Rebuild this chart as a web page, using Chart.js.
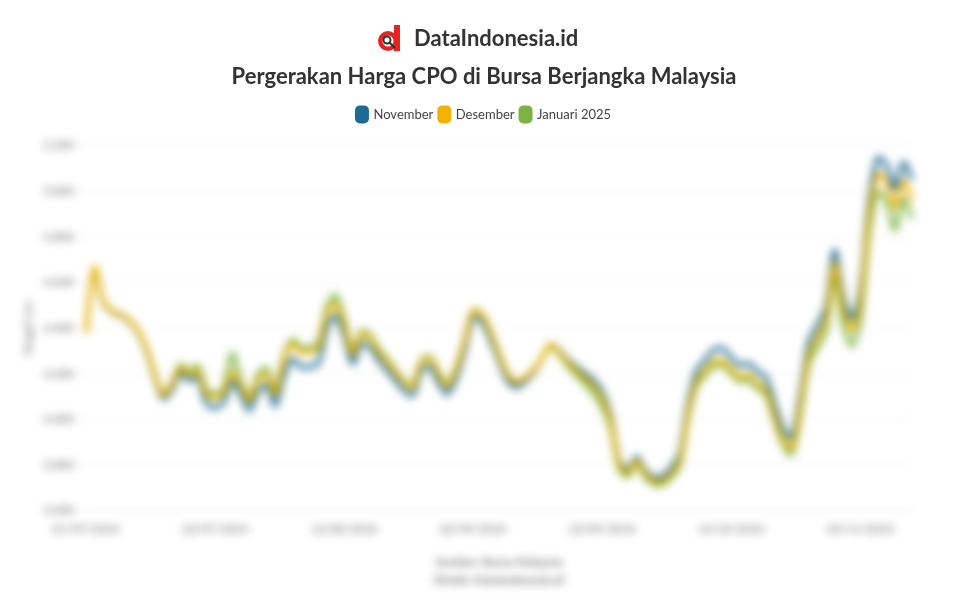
<!DOCTYPE html>
<html>
<head>
<meta charset="utf-8">
<script src="https://cdn.jsdelivr.net/npm/chart.js@4"></script>
<style>
  html, body { margin: 0; padding: 0; background: #fff; }
  canvas { display: block; }
</style>
</head>
<body>
<canvas id="cpoChart" width="960" height="600"></canvas>
<script>
const dates = [
  '01/07/2024','02/07/2024','03/07/2024','04/07/2024','05/07/2024','08/07/2024','09/07/2024','10/07/2024',
  '11/07/2024','12/07/2024','15/07/2024','16/07/2024','17/07/2024','18/07/2024','19/07/2024','22/07/2024',
  '23/07/2024','24/07/2024','25/07/2024','26/07/2024','29/07/2024','30/07/2024','31/07/2024',
  '01/08/2024','02/08/2024','05/08/2024','06/08/2024','07/08/2024','08/08/2024','09/08/2024','12/08/2024',
  '13/08/2024','14/08/2024','15/08/2024','16/08/2024','19/08/2024','20/08/2024','21/08/2024','22/08/2024',
  '23/08/2024','26/08/2024','27/08/2024','28/08/2024','29/08/2024','30/08/2024',
  '02/09/2024','03/09/2024','04/09/2024','05/09/2024','06/09/2024','09/09/2024','10/09/2024','11/09/2024',
  '12/09/2024','13/09/2024','16/09/2024','17/09/2024','18/09/2024','19/09/2024','20/09/2024','23/09/2024',
  '24/09/2024','25/09/2024','26/09/2024','27/09/2024','30/09/2024',
  '01/10/2024','02/10/2024','03/10/2024','04/10/2024','07/10/2024','08/10/2024','09/10/2024','10/10/2024',
  '11/10/2024','14/10/2024','15/10/2024','16/10/2024','17/10/2024','18/10/2024','21/10/2024','22/10/2024',
  '23/10/2024','24/10/2024','25/10/2024','28/10/2024','29/10/2024','30/10/2024','31/10/2024',
  '01/11/2024','04/11/2024','05/11/2024','06/11/2024','07/11/2024','08/11/2024','11/11/2024','12/11/2024'
];

// harga penutupan kontrak (ringgit/ton)
const november = [
  4380,4660,4515,4470,4455,4430,4385,4305,4185,4090,4130,4200,4170,4185,4070,4050,
  4075,4165,4110,4040,4120,4150,4060,4190,4265,4230,4230,4245,4400,4455,4370,4245,
  4330,4315,4260,4215,4170,4125,4105,4215,4230,4160,4110,4180,4300,4445,4430,4350,
  4260,4170,4140,4165,4205,4265,4330,4300,4260,4230,4200,4170,4120,4015,3815,3780,
  3835,3775,3745,3750,3785,3850,4070,4215,4260,4305,4310,4270,4235,4245,4210,4185,
  4070,3960,3920,4100,4335,4410,4490,4740,4540,4440,4565,4945,5145,5115,5010,5125,5050
];
const desember = [
  4380,4665,4520,4475,4460,4435,4390,4315,4195,4105,4150,4225,4195,4215,4110,4095,
  4115,4205,4150,4080,4170,4195,4110,4255,4330,4295,4295,4310,4460,4505,4415,4285,
  4370,4355,4295,4250,4205,4160,4140,4250,4265,4195,4145,4215,4335,4475,4460,4380,
  4285,4195,4160,4180,4215,4270,4330,4295,4250,4215,4180,4145,4095,3995,3800,3765,
  3820,3760,3730,3730,3760,3820,4030,4170,4215,4255,4255,4220,4185,4195,4160,4135,
  4020,3915,3875,4050,4285,4360,4435,4685,4490,4390,4510,4885,5075,5045,4930,5045,4960
];
const januari = [
  4380,4665,4520,4475,4460,4435,4390,4315,4200,4110,4160,4240,4210,4235,4130,4110,
  4135,4290,4170,4100,4195,4225,4130,4275,4350,4315,4315,4335,4490,4545,4440,4305,
  4385,4370,4310,4265,4215,4170,4150,4260,4275,4205,4155,4225,4345,4480,4465,4385,
  4290,4200,4165,4180,4215,4265,4320,4285,4235,4195,4155,4110,4055,3960,3780,3750,
  3805,3745,3715,3715,3745,3800,4010,4150,4195,4235,4235,4200,4165,4175,4135,4110,
  3995,3890,3845,4015,4245,4315,4390,4620,4420,4320,4440,4810,4995,4960,4830,4965,4880
];

const seriesNames = ['November', 'Desember', 'Januari 2025'];
const seriesColors = ['#1d6a92', '#f2b200', '#7cb342'];
const yTicks = [3600, 3800, 4000, 4200, 4400, 4600, 4800, 5000, 5200];

// logo di atas judul
const logoPlugin = {
  id: 'logo',
  beforeInit(chart) {
    // beri jarak antara legenda dan area grafik
    const fit = chart.legend.fit;
    chart.legend.fit = function () {
      fit.call(this);
      this.height += 14;
    };
  },
  afterDraw(chart) {
    const ctx = chart.ctx;
    ctx.save();
    ctx.fillStyle = '#e52521';
    ctx.beginPath();
    ctx.arc(388, 41, 10, 0, Math.PI * 2);
    ctx.fill();
    ctx.fillRect(394, 25, 6, 26);
    ctx.fillStyle = '#fff';
    ctx.beginPath();
    ctx.arc(388, 41, 5.5, 0, Math.PI * 2);
    ctx.fill();
    ctx.strokeStyle = '#333';
    ctx.lineWidth = 2;
    ctx.beginPath();
    ctx.arc(387, 40, 3.5, 0, Math.PI * 2);
    ctx.moveTo(390, 43);
    ctx.lineTo(395, 48);
    ctx.stroke();
    ctx.fillStyle = '#333';
    ctx.font = 'bold 22px Lato';
    ctx.textBaseline = 'alphabetic';
    ctx.fillText('DataIndonesia.id', 414, 46);
    ctx.restore();
  }
};

// bagian grafik dibuat buram seperti gambar acuan
const blurPlugin = {
  id: 'blurArea',
  afterDraw(chart) {
    const { ctx, canvas } = chart;
    const top = 126;
    const w = canvas.width, h = canvas.height - top;
    const tmp = document.createElement('canvas');
    tmp.width = w;
    tmp.height = h;
    tmp.getContext('2d').drawImage(canvas, 0, top, w, h, 0, 0, w, h);
    ctx.save();
    ctx.setTransform(1, 0, 0, 1, 0, 0);
    ctx.clearRect(0, top, w, h);
    ctx.filter = 'blur(4px)';
    ctx.drawImage(tmp, 0, top);
    ctx.restore();
  }
};

const drawOrder = [2, 0, 1];
const datasets = [november, desember, januari].map((values, i) => ({
  label: seriesNames[i],
  data: values,
  borderColor: seriesColors[i],
  backgroundColor: seriesColors[i],
  borderWidth: 4,
  pointRadius: 0,
  tension: 0.3,
  order: drawOrder[i]
}));

new Chart(document.getElementById('cpoChart'), {
  type: 'line',
  data: { labels: dates, datasets: datasets },
  options: {
    responsive: false,
    animation: false,
    layout: { padding: { left: 18, right: 10, top: 0, bottom: 7 } },
    plugins: {
      title: {
        display: true,
        text: 'Pergerakan Harga CPO di Bursa Berjangka Malaysia',
        color: '#333',
        font: { family: 'Lato', size: 22, weight: 'bold' },
        padding: { top: 64, bottom: 11 }
      },
      legend: {
        display: true,
        position: 'top',
        labels: {
          color: '#444',
          font: { family: 'Lato', size: 13 },
          boxWidth: 10,
          boxHeight: 14,
          useBorderRadius: true,
          borderRadius: 3,
          padding: 6,
          sort: (a, b) => a.datasetIndex - b.datasetIndex
        }
      },
      tooltip: { enabled: false }
    },
    scales: {
      x: {
        grid: { display: false },
        border: { color: '#ddd' },
        ticks: {
          autoSkip: false,
          maxRotation: 0,
          color: '#666',
          font: { family: 'Lato', size: 12 },
          callback: function (value, index) {
            return index % 15 === 0 ? this.getLabelForValue(value) : null;
          }
        },
        title: {
          display: true,
          text: ['Sumber: Bursa Malaysia', 'Diolah: DataIndonesia.id'],
          color: '#777',
          font: { family: 'Lato', size: 12, weight: 'bold', lineHeight: 1.5 },
          padding: { top: 14 }
        }
      },
      y: {
        min: yTicks[0],
        max: yTicks[yTicks.length - 1],
        grid: { color: '#ececec' },
        border: { display: false },
        afterBuildTicks: (scale) => { scale.ticks = yTicks.map(v => ({ value: v })); },
        ticks: {
          color: '#666',
          font: { family: 'Lato', size: 12 },
          padding: 4,
          callback: (v) => v.toLocaleString('id-ID')
        },
        title: {
          display: true,
          text: 'Ringgit/ton',
          color: '#777',
          font: { family: 'Lato', size: 11 }
        }
      },
      // sumbu kosong di kanan agar judul tetap di tengah
      yRight: {
        position: 'right',
        grid: { display: false },
        border: { display: false },
        ticks: { display: false },
        afterFit: (scale) => { scale.width = 38; }
      }
    }
  },
  plugins: [logoPlugin, blurPlugin]
});
</script>
</body>
</html>
